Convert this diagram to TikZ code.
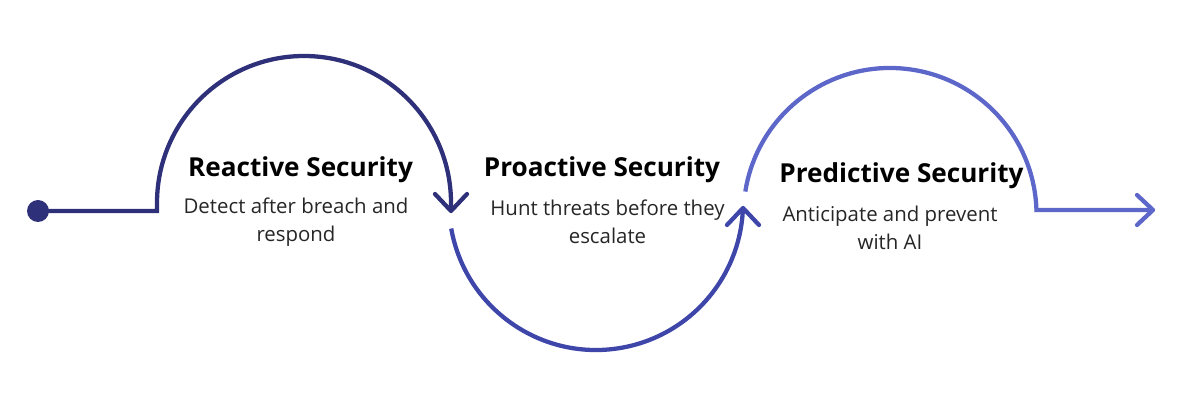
\documentclass[tikz,border=0pt]{standalone}
\usepackage{fontspec}
\setmainfont{Open Sans}
\definecolor{cdark}{HTML}{2E3079}
\definecolor{cmid}{HTML}{3E47A9}
\definecolor{clight}{HTML}{5D66C9}
\definecolor{ctext}{HTML}{262626}
\begin{document}
\begin{tikzpicture}[x=0.75pt,y=0.75pt,
  flow/.style={line width=3.2pt},
  chev/.style={line width=3.2pt, line cap=round, line join=round},
  title/.style={font=\fontsize{19.6}{24}\selectfont\bfseries, text=black, anchor=base, inner sep=0pt},
  desc/.style={font=\fontsize{15.3}{21}\selectfont, text=ctext, anchor=base, align=center, inner sep=0pt}]
\useasboundingbox (0,0) rectangle (1187,403);
% start dot
\fill[cdark] (38,192) circle (11);
\coordinate (s) at (38,192);
% arc 1
\draw[flow,cdark] (s) -- (157,192) -- (157,200) arc[start angle=180,end angle=0,radius=147] -- (451,192);
\draw[chev,cdark] (435,209) -- (451,192) -- (467,209);
% arc 2
\draw[flow,cmid] (596,200) ++(190:147) arc[start angle=190,end angle=358,radius=147];
\draw[chev,cmid] (727,178) -- (743,195) -- (759,178);
% arc 3
\draw[flow,clight] (890,188.5) ++(171:146.5) arc[start angle=171,end angle=2,radius=146.5] -- (1036.4,193) -- (1152,193);
\draw[chev,clight] (1137,208) -- (1153,193) -- (1137,178);
% texts
\node[title] (t1) at (300.5,226) {Reactive Security};
\node[desc] (d1) at (296,161) {Detect after breach and\\respond};
\node[title] (t2) at (602,226) {Proactive Security};
\node[desc] (d2) at (607.5,159) {Hunt threats before they\\escalate};
\node[title] (t3) at (901.5,220) {Predictive Security};
\node[desc] (d3) at (890,153) {Anticipate and prevent\\with AI};
\end{tikzpicture}
\end{document}
